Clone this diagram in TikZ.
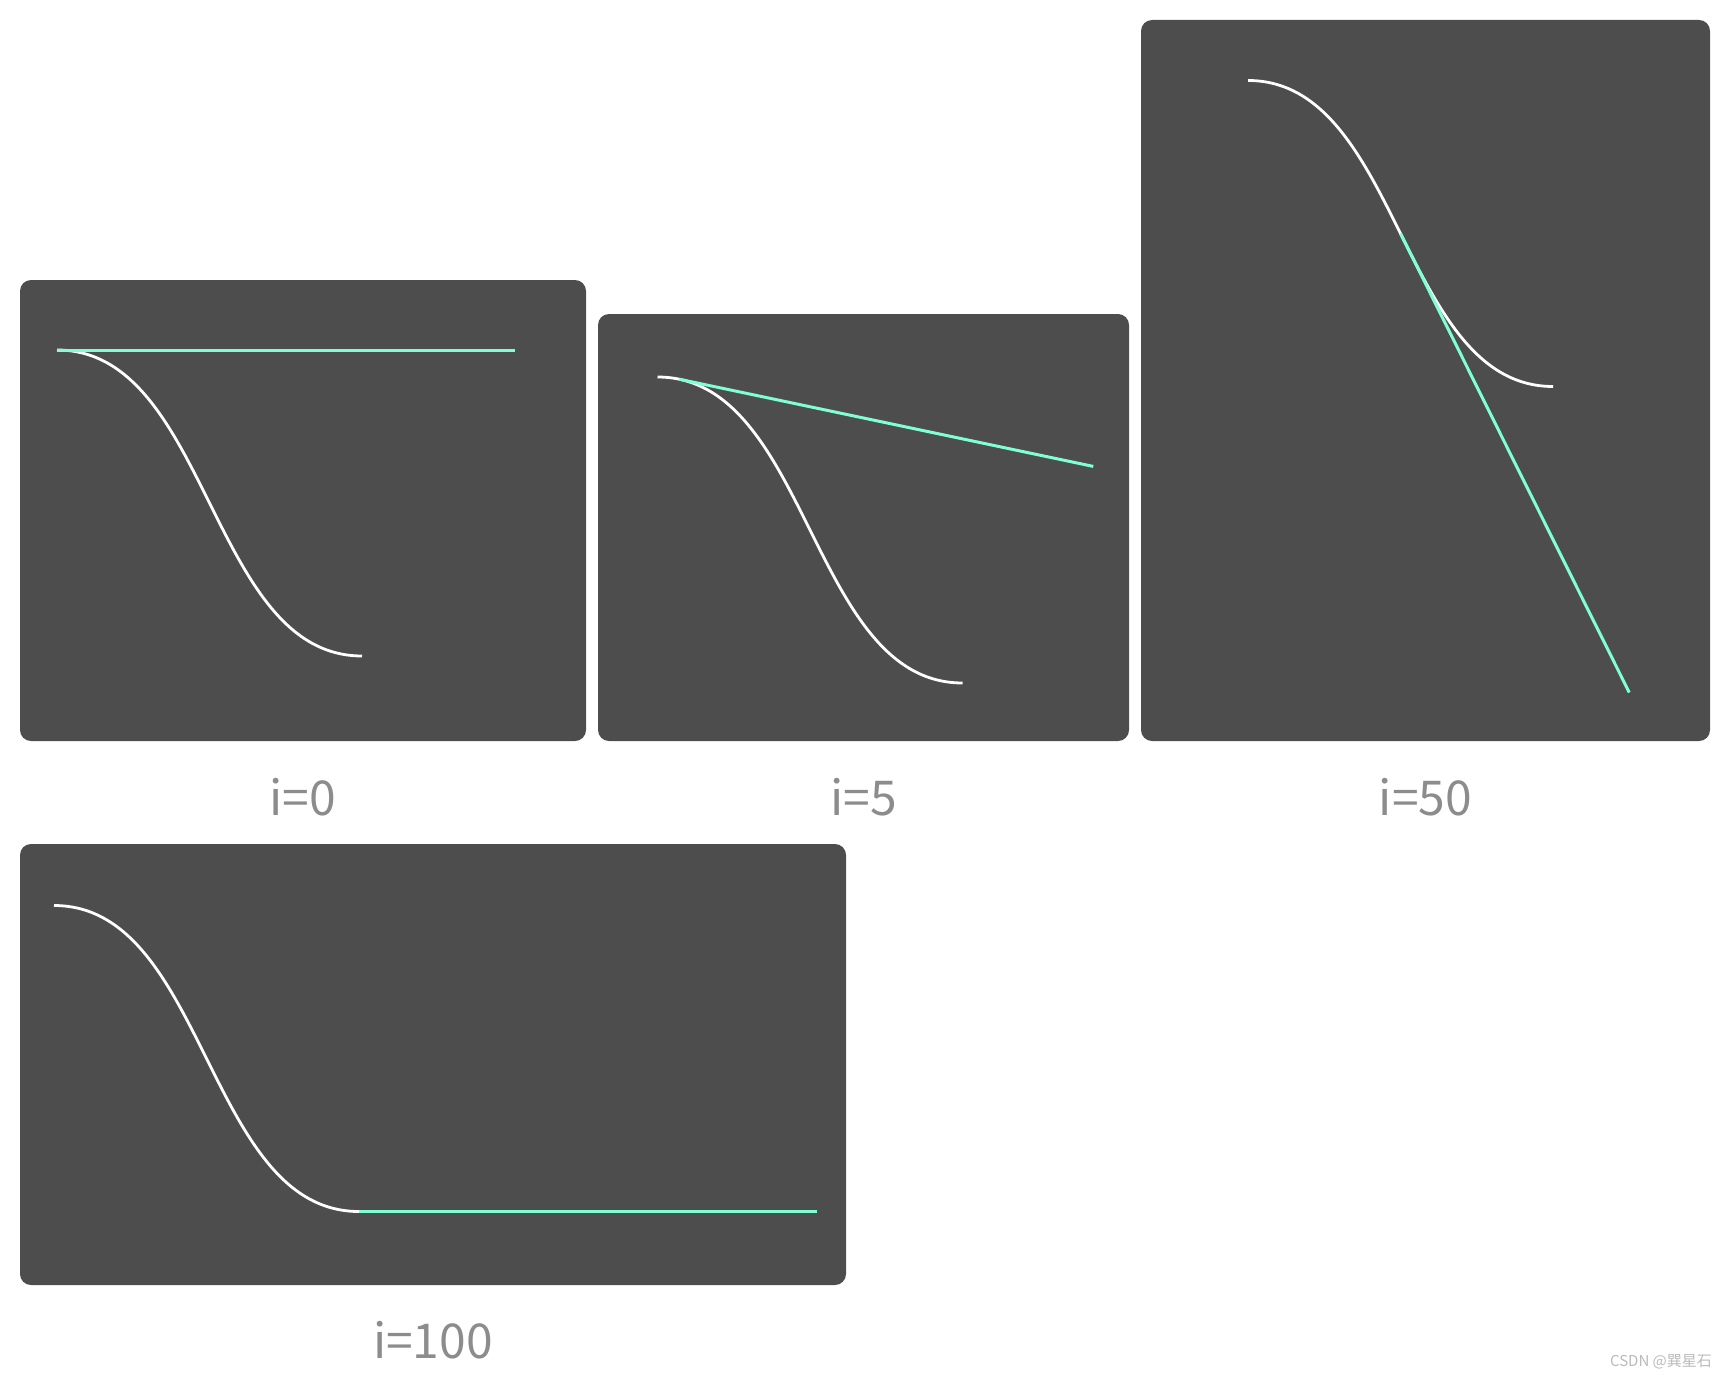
\documentclass[tikz,border=0pt]{standalone}
\usepackage{fontspec}
\setmainfont{Noto Sans CJK SC}
\usetikzlibrary{calc}
\definecolor{panelgray}{RGB}{77,77,77}
\definecolor{tangentgreen}{RGB}{127,255,212}
\definecolor{labelgray}{RGB}{140,140,140}

\begin{document}
\begin{tikzpicture}[x=0.5pt,y=-0.5pt,
  panel/.style={fill=panelgray, rounded corners=5.5pt},
  curve/.style={draw=white, line width=1.4pt},
  tangent/.style={draw=tangentgreen, line width=1.5pt},
  caption/.style={text=labelgray, font=\fontsize{24}{29}\selectfont}]
  \def\w{305}
  \def\h{306}
  \useasboundingbox (0,0) rectangle (1727,1380);

  %panels: box, curve start, t, caption
  \foreach \name/\xa/\ya/\xb/\yb/\cx/\cy/\t/\ly/\lab in {
    a/20/280/586/741/57/350/0/797/{i=0},
    b/598/314/1129/741/657.5/377/0.05/797/{i=5},
    c/1141/20/1710/741/1248/80.5/0.5/797/{i=50},
    d/20/844/846/1285/54/905.5/1/1340/{i=100}}
  {
    \fill[panel] (\xa,\ya) rectangle (\xb,\yb);
    %bezier curve
    \coordinate (\name-s) at (\cx,\cy);
    \coordinate (\name-e) at ($(\name-s)+(\w,\h)$);
    \draw[curve] (\name-s) .. controls +(\w/2,0) and +(-\w/2,0) .. (\name-e);
    %tangent at t
    \pgfmathsetmacro\px{\cx+\w*(1.5*(1-\t)^2*\t+1.5*(1-\t)*\t^2+\t^3)}
    \pgfmathsetmacro\py{\cy+\h*(3*(1-\t)*\t^2+\t^3)}
    \pgfmathsetmacro\dx{\w*(1.5*(1-\t)^2+1.5*\t^2)}
    \pgfmathsetmacro\dy{\h*6*(1-\t)*\t}
    \coordinate (\name-p) at (\px,\py);
    \draw[tangent] (\name-p) -- ++(\dx,\dy);
    \node[caption] (lab-\name) at ({(\xa+\xb)/2},\ly) {\lab};
  }

  \node[text=labelgray!60, font=\fontsize{7.5}{9}\selectfont] (mark) at (1661,1362) {CSDN @巽星石};
\end{tikzpicture}
\end{document}
